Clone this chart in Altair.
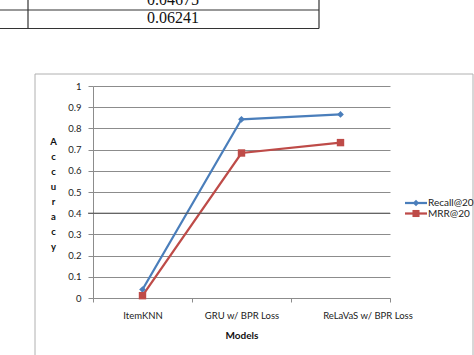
import altair as alt
import pandas as pd

# ---- data ----
models = ["ItemKNN", "GRU w/ BPR Loss", "ReLaVaS w/ BPR Loss"]
recall = [0.04, 0.843, 0.866]
mrr = [0.011, 0.684, 0.733]
series = ["Recall@20", "MRR@20"]
series_colors = ["#4A7EBB", "#BE4B48"]
series_shapes = ["diamond", "square"]
y_ticks = [0, 0.1, 0.2, 0.3, 0.4, 0.5, 0.6, 0.7, 0.8, 0.9, 1]
table_values = ["0.04675", "0.06241"]

df = pd.DataFrame({
    "model": models * 2,
    "value": recall + mrr,
    "series": [series[0]] * len(models) + [series[1]] * len(models),
})

W, H = 297, 212
FONT = "Lato"
GRID = "#8c8c8c"

xenc = alt.X(
    "model:N", sort=models,
    scale=alt.Scale(type="band", domain=models, paddingInner=0, paddingOuter=0),
    axis=alt.Axis(
        title="Models", tickBand="extent", ticks=True, tickSize=4, grid=False,
        labelAngle=0, labelFont=FONT, labelFontSize=9.5, labelColor="#222",
        labelPadding=8, labelOverlap=False,
        labelOffset={"condition": {"test": f"datum.value == '{models[2]}'", "value": 27}, "value": 0},
        domainColor=GRID, tickColor=GRID,
        titleFont=FONT, titleFontSize=10, titleFontWeight="bold", titleColor="#111",
        titleY=37, titleBaseline="middle",
    ),
)
yenc = alt.Y(
    "value:Q",
    scale=alt.Scale(domain=[0, 1], nice=False),
    axis=alt.Axis(
        values=y_ticks, tickCount=len(y_ticks), labelOverlap=False, format="~g",
        grid=True, gridColor=GRID, gridWidth=1,
        domainColor=GRID, tickColor=GRID, tickSize=5,
        labelFont=FONT, labelFontSize=9.5, labelColor="#222", labelPadding=7,
        title=list("Accuracy"), titleAngle=0, titleFont=FONT, titleFontSize=9.5,
        titleFontWeight="bold", titleColor="#111", titleX=-40, titleY=55,
        titleAlign="center", titleBaseline="middle", titleLineHeight=15,
    ),
)
color = alt.Color("series:N", scale=alt.Scale(domain=series, range=series_colors), legend=None)

base = alt.Chart(df)
lines = base.mark_line(strokeWidth=2.25).encode(x=xenc, y=yenc, color=color)
points = base.mark_point(filled=True, opacity=1).encode(
    x=xenc, y=yenc, color=color,
    shape=alt.Shape("series:N", scale=alt.Scale(domain=series, range=series_shapes), legend=None),
    size=alt.Size("series:N", scale=alt.Scale(domain=series, range=[45, 55]), legend=None),
)

# darker gridline at 0.4
dark = alt.Chart(pd.DataFrame({"v": [0.4]})).mark_rule(color="#555", strokeWidth=1).encode(
    y=alt.Y("v:Q", scale=alt.Scale(domain=[0, 1], nice=False)),
    x=alt.value(-5), x2=alt.value(W),
)

# chart frame
frame_df = pd.DataFrame({"a": [0]})
frame = [
    alt.Chart(frame_df).mark_rule(color="#b0b0b0", strokeWidth=1).encode(
        x=alt.value(-58), y=alt.value(-12), y2=alt.value(270)),
    alt.Chart(frame_df).mark_rule(color="#b0b0b0", strokeWidth=1).encode(
        x=alt.value(-58), x2=alt.value(380), y=alt.value(-12)),
    alt.Chart(frame_df).mark_rule(color="#b0b0b0", strokeWidth=1).encode(
        x=alt.value(380), y=alt.value(-12), y2=alt.value(270)),
]

# legend
legend_layers = []
for i, s in enumerate(series):
    yy = 117 + 10.5 * i
    legend_layers.append(alt.Chart(frame_df).mark_rule(color=series_colors[i], strokeWidth=2.25).encode(
        x=alt.value(312), x2=alt.value(334), y=alt.value(yy)))
    legend_layers.append(alt.Chart(frame_df).mark_point(
        filled=True, opacity=1, color=series_colors[i], shape=series_shapes[i],
        size=[40, 50][i]).encode(x=alt.value(323), y=alt.value(yy)))
    legend_layers.append(alt.Chart(frame_df).mark_text(
        align="left", baseline="middle", font=FONT, fontSize=10, color="#222").encode(
        x=alt.value(335), y=alt.value(yy), text=alt.value(s)))

# table fragment above the chart
table_layers = [
    alt.Chart(frame_df).mark_rule(color="#333", strokeWidth=1.2).encode(
        x=alt.value(-93), x2=alt.value(226), y=alt.value(-76)),
    alt.Chart(frame_df).mark_rule(color="#333", strokeWidth=1.2).encode(
        x=alt.value(-93), x2=alt.value(226), y=alt.value(-57.5)),
    alt.Chart(frame_df).mark_rule(color="#333", strokeWidth=1.2).encode(
        x=alt.value(-65), y=alt.value(-90), y2=alt.value(-57.5)),
    alt.Chart(frame_df).mark_rule(color="#333", strokeWidth=1.2).encode(
        x=alt.value(226), y=alt.value(-90), y2=alt.value(-57.5)),
]
for i, t in enumerate(table_values):
    table_layers.append(alt.Chart(frame_df).mark_text(
        align="center", baseline="alphabetic", font="Liberation Serif", fontSize=16, color="#111").encode(
        x=alt.value(80), y=alt.value(-81.5 + 18.7 * i), text=alt.value(t)))

chart = alt.layer(
    lines, dark, points, *frame, *legend_layers, *table_layers
).properties(
    width=W, height=H,
    autosize=alt.AutoSizeParams(type="none"),
    padding={"left": 93, "top": 86, "right": 84, "bottom": 57},
    background="white",
).configure_view(stroke=None)

chart.save("out.html", embed_options={"renderer": "svg", "actions": False})
